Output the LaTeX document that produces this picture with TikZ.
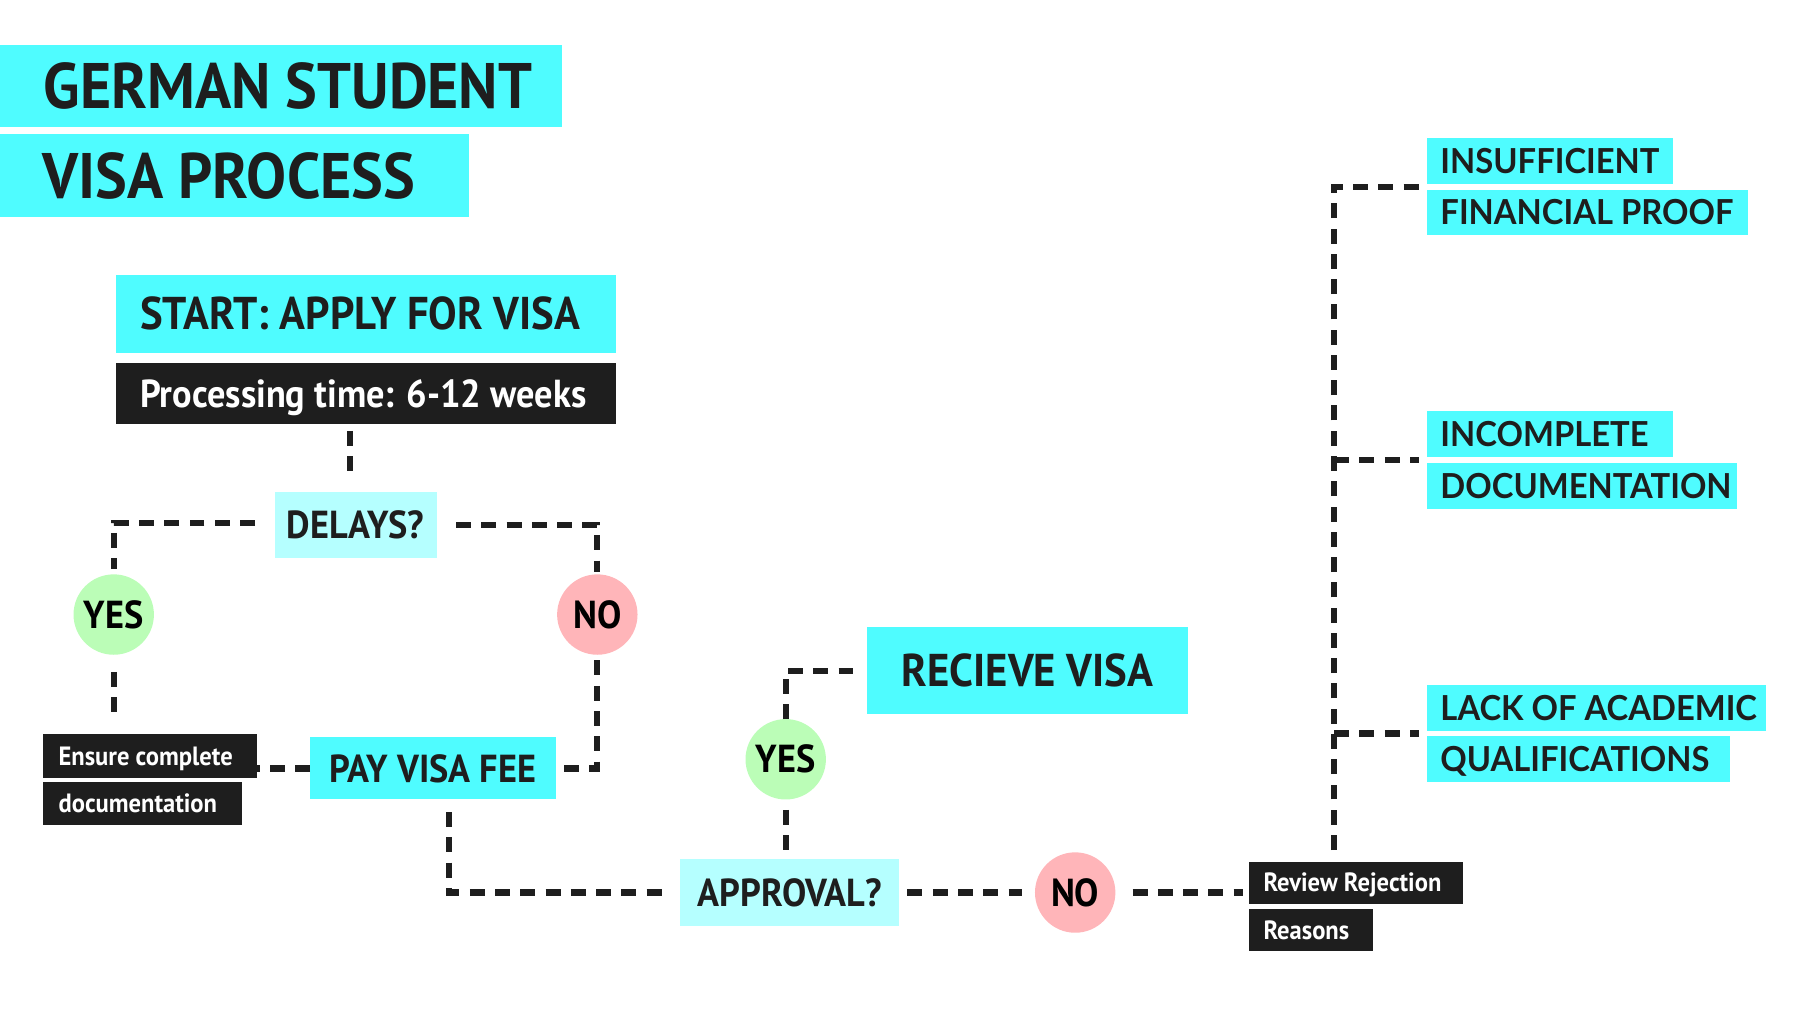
\documentclass[tikz,border=0pt]{standalone}
\usepackage{fontspec}
\setmainfont{PT Sans}[FakeStretch=0.93]
\newfontfamily\widefont{Lato}[FakeStretch=0.95]
\usetikzlibrary{calc}
\definecolor{cyanA}{HTML}{4FFCFF}
\definecolor{cyanB}{HTML}{B5FFFF}
\definecolor{ink}{HTML}{1E1E1E}
\definecolor{yesg}{HTML}{BBFDB7}
\definecolor{nor}{HTML}{FFB5B9}
\begin{document}
\begin{tikzpicture}[x=0.5pt,y=-0.5pt,
  box/.style={rectangle, inner ysep=0pt, outer sep=0pt, text depth=0pt, text=ink},
  ttl/.style={font=\fontsize{28}{28}\selectfont\bfseries, text height=19.5pt},
  big/.style={font=\fontsize{20}{20}\selectfont\bfseries, text height=14pt},
  mid/.style={font=\fontsize{17}{17}\selectfont\bfseries, text height=12pt},
  sml/.style={font=\fontsize{11.5}{11.5}\selectfont\bfseries, text height=8pt},
  hi/.style={box, fill=cyanA},
  lo/.style={box, fill=cyanB},
  dark/.style={box, fill=ink, text=white},
  side/.style={box, fill=cyanA, anchor=north west, font=\widefont\fontsize{15}{15}\selectfont\bfseries, text height=10.8pt, inner xsep=6pt, minimum height=20pt},
  circ/.style={circle, minimum size=35pt, inner sep=0pt, outer sep=0pt, font=\fontsize{17}{17}\selectfont\bfseries, text=black},
  conn/.style={draw=ink, line width=2.7pt, dash pattern=on 6.5pt off 4.5pt},
]
\useasboundingbox (0,0) rectangle (1567,881);
% title
\node[hi, ttl, anchor=north west, minimum height=36pt, inner xsep=19pt] (t1) at (0,39) {\makebox[206.5pt][l]{GERMAN STUDENT}};
\node[hi, ttl, anchor=north west, minimum height=36pt, inner xsep=18.5pt] (t2) at (0,117) {\makebox[167pt][l]{VISA PROCESS}};
% left part
\node[hi, big, anchor=north west, minimum height=34pt, inner xsep=10.5pt] (start) at (101,239) {\makebox[196.5pt][l]{START: APPLY FOR VISA}};
\node[dark, mid, anchor=north west, minimum height=26.5pt, inner xsep=10.5pt] (proc) at (101,316) {\makebox[196.5pt][l]{Processing time: 6-12 weeks}};
\node[lo, mid, minimum width=70.5pt, minimum height=29pt] (delays) at (309.5,457) {DELAYS?};
\node[circ, fill=yesg] (yes1) at (99,535) {YES};
\node[circ, fill=nor] (no1) at (520,535) {NO};
\node[dark, sml, anchor=north west, minimum height=19pt, inner xsep=7pt] (ens1) at (37,639) {\makebox[79.5pt][l]{Ensure complete}};
\node[dark, sml, anchor=north west, minimum height=18.5pt, inner xsep=7pt] (ens2) at (37,681) {\makebox[73pt][l]{documentation}};
\node[hi, mid, minimum width=107pt, minimum height=27pt] (pay) at (377,669) {PAY VISA FEE};
\node[lo, mid, minimum width=95.5pt, minimum height=29pt] (appr) at (687.5,777) {APPROVAL?};
\node[circ, fill=yesg] (yes2) at (684,661) {YES};
\node[hi, big, minimum width=139.5pt, minimum height=38pt] (recv) at (894.5,584) {RECIEVE VISA};
\node[circ, fill=nor] (no2) at (936,777) {NO};
\node[dark, sml, anchor=north west, minimum height=18.5pt, inner xsep=6.5pt] (rev1) at (1087,750) {\makebox[80.5pt][l]{Review Rejection}};
\node[dark, sml, anchor=north west, minimum height=18.5pt, inner xsep=6.5pt] (rev2) at (1087,791) {\makebox[41pt][l]{Reasons}};
% right side
\node[side] (s1a) at (1242,120) {\makebox[95pt][l]{INSUFFICIENT}};
\node[side] (s1b) at (1242,165) {\makebox[128pt][l]{FINANCIAL PROOF}};
\node[side] (s2a) at (1242,358) {\makebox[95pt][l]{INCOMPLETE}};
\node[side] (s2b) at (1242,403) {\makebox[123pt][l]{DOCUMENTATION}};
\node[side] (s3a) at (1242,596) {\makebox[135.5pt][l]{LACK OF ACADEMIC}};
\node[side] (s3b) at (1242,641) {\makebox[120pt][l]{QUALIFICATIONS}};
% connectors
\draw[conn, shorten <=3pt, shorten >=8pt] ([xshift=-6.75pt]proc.south) -- ([xshift=-2.25pt]delays.north);
\draw[conn, shorten <=8.5pt, shorten >=2.5pt] ([yshift=1pt]delays.west) -| (yes1.north);
\draw[conn, shorten <=8.5pt, shorten >=1pt] (delays.east) -| (no1.north);
\draw[conn, shorten <=7.5pt, shorten >=7pt] (yes1.south) -- (yes1.south |- ens1.north);
\draw[conn] (pay.west) -- (pay.west -| ens1.east);
\draw[conn, shorten <=2.5pt] (no1.south) |- (pay.east);
\draw[conn, shorten <=5.5pt, shorten >=3.5pt] ([xshift=7pt]pay.south) |- (appr.west);
\draw[conn, shorten <=4.5pt, shorten >=2.5pt] (yes2.south) -- (yes2.south |- appr.north);
\draw[conn, shorten >=2.5pt] (yes2.north) |- (recv.west);
\draw[conn, shorten <=3.5pt, shorten >=5.5pt] (appr.east) -- (no2.west);
\draw[conn, shorten <=7.5pt, shorten >=2.5pt] (no2.east) -- (no2.east -| rev1.west);
\coordinate (trunk) at ([xshift=-9.5pt, yshift=5pt]rev1.north);
\coordinate (b1) at ($(s1a.south west)!0.5!(s1b.north west)$);
\coordinate (b2) at ($(s2a.south west)!0.5!(s2b.north west)$);
\coordinate (b3) at ($(s3a.south west)!0.5!(s3b.north west)$);
\draw[conn, shorten >=3.5pt] (trunk) |- (b1);
\draw[conn, shorten >=3.5pt] (trunk |- b2) -- (b2);
\draw[conn, shorten >=3.5pt] (trunk |- b3) -- (b3);
\end{tikzpicture}
\end{document}
